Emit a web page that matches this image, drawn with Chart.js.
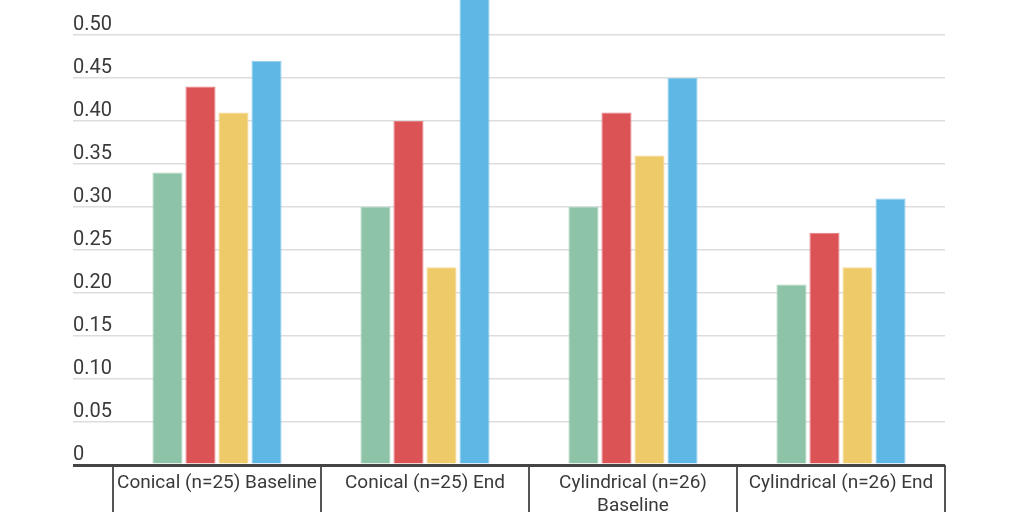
<!DOCTYPE html>
<html>
<head>
<meta charset="utf-8">
<script src="https://cdn.jsdelivr.net/npm/chart.js@4.4.1/dist/chart.umd.min.js"></script>
<style>
  html, body { margin: 0; padding: 0; background: #fff; overflow: hidden; width: 1024px; height: 512px; }
  #wrap { position: absolute; left: 0; top: -63px; width: 1024px; height: 588px; }
</style>
</head>
<body>
<div id="wrap"><canvas id="c"></canvas></div>
<script>
const categories = [
  'Conical (n=25) Baseline',
  'Conical (n=25) End',
  ['Cylindrical (n=26)', 'Baseline'],
  'Cylindrical (n=26) End'
];
const seriesGreen  = [0.34, 0.30, 0.30, 0.21];
const seriesRed    = [0.44, 0.40, 0.41, 0.27];
const seriesYellow = [0.41, 0.23, 0.36, 0.23];
const seriesBlue   = [0.47, 0.55, 0.45, 0.31];
const yTickValues  = [0, 0.05, 0.10, 0.15, 0.20, 0.25, 0.30, 0.35, 0.40, 0.45, 0.50, 0.55, 0.60];

const fills   = ['#8DC3A7', '#DC5356', '#EFCA69', '#5EB7E5'];
const borders = ['#A9D3BD', '#E57C7F', '#F4D88F', '#8DCBEC'];
const seriesList = [seriesGreen, seriesRed, seriesYellow, seriesBlue];

new Chart(document.getElementById('c'), {
  type: 'bar',
  data: {
    labels: categories,
    datasets: seriesList.map((d, i) => ({
      data: d,
      backgroundColor: fills[i],
      borderColor: borders[i],
      borderWidth: 1,
      categoryPercentage: 0.635,
      barPercentage: 0.91
    }))
  },
  options: {
    responsive: true,
    maintainAspectRatio: false,
    animation: false,
    layout: { padding: { left: 73, right: 79, top: 12, bottom: 0 } },
    plugins: { legend: { display: false }, tooltip: { enabled: false } },
    scales: {
      x: {
        border: { display: false },
        grid: {
          offset: true,
          drawOnChartArea: false,
          drawTicks: true,
          tickLength: 60,
          color: '#555555',
          lineWidth: 2
        },
        ticks: {
          color: '#3A3A3A',
          font: { family: 'Roboto', size: 19 },
          padding: -53,
          maxRotation: 0,
          minRotation: 0,
          autoSkip: false
        },
        afterFit: (axis) => { axis.height = 60; }
      },
      y: {
        min: 0,
        max: 0.6,
        border: { display: false },
        afterBuildTicks: (axis) => { axis.ticks = yTickValues.map(v => ({ value: v })); },
        grid: {
          drawTicks: true,
          tickLength: 40,
          color: (ctx) => (ctx.tick && ctx.tick.value === 0) ? '#444444' : '#DDDDDD',
          lineWidth: (ctx) => (ctx.tick && ctx.tick.value === 0) ? 3 : 1.5
        },
        ticks: {
          color: '#3A3A3A',
          font: { family: 'Roboto', size: 20 },
          crossAlign: 'far',
          padding: 0,
          labelOffset: -10,
          callback: (v) => v === 0 ? '0' : v.toFixed(2)
        },
        afterFit: (axis) => { axis.width = 40; }
      }
    }
  }
});
</script>
</body>
</html>
